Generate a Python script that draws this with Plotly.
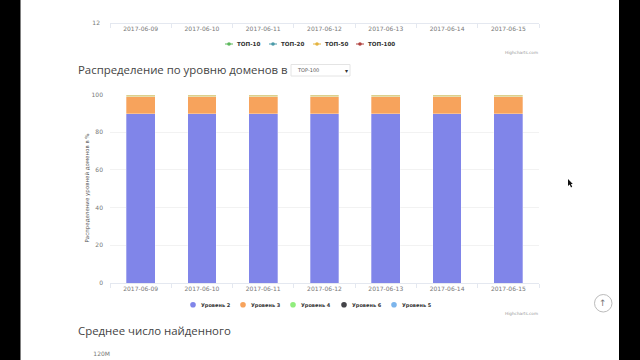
import plotly.graph_objects as go

W, H = 640, 360
dates = ["2017-06-09", "2017-06-10", "2017-06-11", "2017-06-12", "2017-06-13", "2017-06-14", "2017-06-15"]
level2 = [89.9, 89.9, 89.9, 89.9, 89.9, 89.9, 89.9]
level3 = [9.0, 9.0, 9.0, 9.0, 9.0, 9.0, 9.0]
level4 = [0.9, 0.9, 0.9, 0.9, 0.9, 0.9, 0.9]
level6 = [0.1, 0.1, 0.1, 0.1, 0.1, 0.1, 0.1]
level5 = [0.1, 0.1, 0.1, 0.1, 0.1, 0.1, 0.1]
y_ticks = [0, 20, 40, 60, 80, 100]
level_names = ["Уровень 2", "Уровень 3", "Уровень 4", "Уровень 6", "Уровень 5"]
level_colors = ["#8085e9", "#f7a35c", "#90ed7d", "#434348", "#7cb5ec"]
bar_colors = ["#8085e9", "#f7a35c", "#dcd08c", "#dcd08c", "#dcd08c"]
top_names = ["ТОП-10", "ТОП-20", "ТОП-50", "ТОП-100"]
top_colors = ["#5cb85c", "#4a9aa8", "#e4b33f", "#b0413e"]
top_hidden = [None] * 7


def px(x):
    return x / W


def py(y):
    return 1 - y / H


FONT = "DejaVu Sans"
TITLE = "Open Sans"
fig = go.Figure()

for name, vals, col in zip(level_names, [level2, level3, level4, level6, level5], bar_colors):
    fig.add_bar(x=dates, y=vals, name=name, marker=dict(color=col, line=dict(color="#fff", width=0.3)),
                showlegend=False, xaxis="x", yaxis="y")
for name, col in zip(top_names, top_colors):
    fig.add_scatter(x=dates, y=top_hidden, name=name, mode="lines", line=dict(color=col), showlegend=False,
                    xaxis="x2", yaxis="y2")
fig.add_scatter(x=dates, y=top_hidden, mode="lines", showlegend=False, xaxis="x3", yaxis="y3")

grid = "#f2f2f2"
axline = "#e4e8f0"
tick_font = dict(family=FONT, size=6, color="#777")
fig.update_layout(
    width=W, height=H, autosize=False, margin=dict(l=0, r=0, t=0, b=0, pad=0, autoexpand=False),
    paper_bgcolor="#000", plot_bgcolor="rgba(0,0,0,0)",
    barmode="stack", bargap=0.53, showlegend=False,
    xaxis=dict(domain=[px(110), px(539)], anchor="y", type="category", categoryarray=dates, range=[-0.5, 6.5],
               tickson="boundaries", ticks="outside", ticklen=4, tickcolor=axline, showgrid=False,
               showline=True, linecolor=axline, linewidth=1, tickfont=tick_font),
    yaxis=dict(domain=[py(283), py(94.5)], anchor="x", range=[0, 100], tickvals=y_ticks, gridcolor=grid,
               gridwidth=1, zeroline=False, showline=False, ticks="", tickfont=tick_font, ticklabelstandoff=6),
    xaxis2=dict(domain=[px(110), px(539)], anchor="y2", type="category", categoryarray=dates, range=[-0.5, 6.5],
                tickson="boundaries", ticks="outside", ticklen=4, tickcolor=axline, showgrid=False,
                showline=True, linecolor=axline, linewidth=1, tickfont=tick_font),
    yaxis2=dict(domain=[py(22.5), 1], anchor="x2", range=[12, 20], tickvals=[12], showgrid=False, zeroline=False,
                tickfont=tick_font, ticklabelstandoff=9),
    xaxis3=dict(domain=[px(110), px(539)], anchor="y3", type="category", categoryarray=dates, range=[-0.5, 6.5],
                showticklabels=False, ticks="", showgrid=False, showline=False),
    yaxis3=dict(domain=[0, py(354)], anchor="x3", range=[110e6, 120e6], tickvals=[120e6], ticktext=["120M"],
                gridcolor=grid, zeroline=False, tickfont=tick_font, ticklabelstandoff=-1),
)

shapes = [dict(type="rect", xref="paper", yref="paper", x0=px(20.5), x1=px(619), y0=0, y1=1,
               fillcolor="#fff", line_width=0, layer="below")]
ann = []


def text(x, y, t, size, color="#444", family=FONT, anchor="left", angle=0):
    ann.append(dict(xref="paper", yref="paper", x=px(x), y=py(y), text=t, showarrow=False, xanchor=anchor,
                    yanchor="middle", align=anchor, textangle=angle,
                    font=dict(family=family, size=size, color=color), borderpad=0))


text(76.5, 69, "Распределение по уровню доменов в", 11.4, "#444", TITLE)
text(76.5, 330, "Среднее число найденного", 11.4, "#444", TITLE)
text(539, 52.5, "Highcharts.com", 4.2, "#999", anchor="right")
text(539, 313.5, "Highcharts.com", 4.2, "#999", anchor="right")
text(87, 188.5, "Распределение уровней доменов в %", 5.5, "#555", anchor="center", angle=-90)

# select box
shapes.append(dict(type="rect", xref="paper", yref="paper", x0=px(291), x1=px(350), y0=py(76), y1=py(64.5),
                   fillcolor="#fff", line=dict(color="#e4e4e4", width=1)))
text(296, 70.5, "TOP-100", 5, "#555")
text(344, 70.5, "▾", 6, "#333")

# top legend
for x_mark, name, col in zip([229, 273, 317, 360], top_names, top_colors):
    shapes.append(dict(type="line", xref="paper", yref="paper", x0=px(x_mark - 4), x1=px(x_mark + 4),
                       y0=py(44), y1=py(44), line=dict(color=col, width=1)))
    shapes.append(dict(type="circle", xref="paper", yref="paper", x0=px(x_mark - 1.8), x1=px(x_mark + 1.8),
                       y0=py(45.8), y1=py(42.2), fillcolor=col, line_width=0))
    text(x_mark + 7, 44, f"<b>{name}</b>", 5.6, "#333")

# bottom legend
for x_mark, name, col in zip([193, 243, 293, 344, 394], level_names, level_colors):
    shapes.append(dict(type="circle", xref="paper", yref="paper", x0=px(x_mark - 2.8), x1=px(x_mark + 2.8),
                       y0=py(307.6), y1=py(302), fillcolor=col, line_width=0))
    text(x_mark + 7, 305, f"<b>{name}</b>", 5, "#333")

# scroll-to-top button
shapes.append(dict(type="circle", xref="paper", yref="paper", x0=px(594.5), x1=px(612), y0=py(312), y1=py(294.5),
                   fillcolor="#fff", line=dict(color="#bbb", width=1)))
text(603.3, 303, "↑", 9, "#777", anchor="center")

# mouse cursor
p = [(568, 179), (568, 186), (569.7, 184.6), (571, 187.4), (572.2, 186.8), (570.9, 184.1), (572.8, 184)]
path = "M " + " L ".join(f"{px(a):.5f},{py(b):.5f}" for a, b in p) + " Z"
shapes.append(dict(type="path", xref="paper", yref="paper", path=path, fillcolor="#111", line_width=0))

fig.update_layout(shapes=shapes, annotations=ann)
fig.write_html("out.html", config={"displayModeBar": False},
               post_script="document.body.style.margin='0';document.body.style.overflow='hidden';")
